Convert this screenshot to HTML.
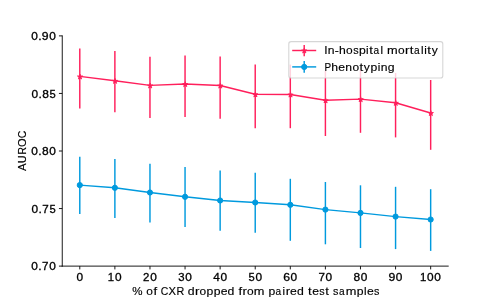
<!DOCTYPE html><html><head><meta charset="utf-8"><style>html,body{margin:0;padding:0;background:#fff;}svg{display:block;will-change:transform;}</style></head><body>
<svg width="498" height="299" viewBox="0 0 498 299">
<rect width="498" height="299" fill="#fff"/>
<line x1="62.25" y1="35.88" x2="62.25" y2="266.12" stroke="#000" stroke-width="0.9" stroke-linecap="square"/>
<line x1="62.25" y1="266.12" x2="448.2" y2="266.12" stroke="#000" stroke-width="0.9" stroke-linecap="square"/>
<line x1="58.95" y1="266.12" x2="62.25" y2="266.12" stroke="#000" stroke-width="0.9"/>
<text transform="translate(31.28,270.42) scale(1.078,1)" x="0" y="0" font-family="Liberation Sans, sans-serif" font-size="11.0" fill="#000" stroke="#000" stroke-width="0.3">0</text>
<text transform="translate(38.25,270.42) scale(1.107,1)" x="0" y="0" font-family="Liberation Sans, sans-serif" font-size="11.0" fill="#000" stroke="#000" stroke-width="0.3">.</text>
<text transform="translate(42.06,270.42) scale(1.055,1)" x="0" y="0" font-family="Liberation Sans, sans-serif" font-size="11.0" fill="#000" stroke="#000" stroke-width="0.3">7</text>
<text transform="translate(49.17,270.42) scale(1.078,1)" x="0" y="0" font-family="Liberation Sans, sans-serif" font-size="11.0" fill="#000" stroke="#000" stroke-width="0.3">0</text>
<line x1="58.95" y1="208.56" x2="62.25" y2="208.56" stroke="#000" stroke-width="0.9"/>
<text transform="translate(31.51,212.86) scale(1.078,1)" x="0" y="0" font-family="Liberation Sans, sans-serif" font-size="11.0" fill="#000" stroke="#000" stroke-width="0.3">0</text>
<text transform="translate(38.48,212.86) scale(1.107,1)" x="0" y="0" font-family="Liberation Sans, sans-serif" font-size="11.0" fill="#000" stroke="#000" stroke-width="0.3">.</text>
<text transform="translate(42.30,212.86) scale(1.055,1)" x="0" y="0" font-family="Liberation Sans, sans-serif" font-size="11.0" fill="#000" stroke="#000" stroke-width="0.3">7</text>
<text transform="translate(49.55,212.86) scale(1.017,1)" x="0" y="0" font-family="Liberation Sans, sans-serif" font-size="11.0" fill="#000" stroke="#000" stroke-width="0.3">5</text>
<line x1="58.95" y1="151.00" x2="62.25" y2="151.00" stroke="#000" stroke-width="0.9"/>
<text transform="translate(31.28,155.30) scale(1.078,1)" x="0" y="0" font-family="Liberation Sans, sans-serif" font-size="11.0" fill="#000" stroke="#000" stroke-width="0.3">0</text>
<text transform="translate(38.25,155.30) scale(1.107,1)" x="0" y="0" font-family="Liberation Sans, sans-serif" font-size="11.0" fill="#000" stroke="#000" stroke-width="0.3">.</text>
<text transform="translate(41.97,155.30) scale(1.090,1)" x="0" y="0" font-family="Liberation Sans, sans-serif" font-size="11.0" fill="#000" stroke="#000" stroke-width="0.3">8</text>
<text transform="translate(49.17,155.30) scale(1.078,1)" x="0" y="0" font-family="Liberation Sans, sans-serif" font-size="11.0" fill="#000" stroke="#000" stroke-width="0.3">0</text>
<line x1="58.95" y1="93.44" x2="62.25" y2="93.44" stroke="#000" stroke-width="0.9"/>
<text transform="translate(31.51,97.74) scale(1.078,1)" x="0" y="0" font-family="Liberation Sans, sans-serif" font-size="11.0" fill="#000" stroke="#000" stroke-width="0.3">0</text>
<text transform="translate(38.48,97.74) scale(1.107,1)" x="0" y="0" font-family="Liberation Sans, sans-serif" font-size="11.0" fill="#000" stroke="#000" stroke-width="0.3">.</text>
<text transform="translate(42.21,97.74) scale(1.090,1)" x="0" y="0" font-family="Liberation Sans, sans-serif" font-size="11.0" fill="#000" stroke="#000" stroke-width="0.3">8</text>
<text transform="translate(49.55,97.74) scale(1.017,1)" x="0" y="0" font-family="Liberation Sans, sans-serif" font-size="11.0" fill="#000" stroke="#000" stroke-width="0.3">5</text>
<line x1="58.95" y1="35.88" x2="62.25" y2="35.88" stroke="#000" stroke-width="0.9"/>
<text transform="translate(31.28,40.18) scale(1.078,1)" x="0" y="0" font-family="Liberation Sans, sans-serif" font-size="11.0" fill="#000" stroke="#000" stroke-width="0.3">0</text>
<text transform="translate(38.25,40.18) scale(1.107,1)" x="0" y="0" font-family="Liberation Sans, sans-serif" font-size="11.0" fill="#000" stroke="#000" stroke-width="0.3">.</text>
<text transform="translate(41.87,40.18) scale(1.114,1)" x="0" y="0" font-family="Liberation Sans, sans-serif" font-size="11.0" fill="#000" stroke="#000" stroke-width="0.3">9</text>
<text transform="translate(49.17,40.18) scale(1.078,1)" x="0" y="0" font-family="Liberation Sans, sans-serif" font-size="11.0" fill="#000" stroke="#000" stroke-width="0.3">0</text>
<line x1="79.79" y1="266.12" x2="79.79" y2="269.42" stroke="#000" stroke-width="0.9"/>
<text transform="translate(76.50,281.20) scale(1.078,1)" x="0" y="0" font-family="Liberation Sans, sans-serif" font-size="11.0" fill="#000" stroke="#000" stroke-width="0.3">0</text>
<line x1="114.88" y1="266.12" x2="114.88" y2="269.42" stroke="#000" stroke-width="0.9"/>
<text transform="translate(107.85,281.20) scale(1.030,1)" x="0" y="0" font-family="Liberation Sans, sans-serif" font-size="11.0" fill="#000" stroke="#000" stroke-width="0.3">1</text>
<text transform="translate(114.91,281.20) scale(1.078,1)" x="0" y="0" font-family="Liberation Sans, sans-serif" font-size="11.0" fill="#000" stroke="#000" stroke-width="0.3">0</text>
<line x1="149.97" y1="266.12" x2="149.97" y2="269.42" stroke="#000" stroke-width="0.9"/>
<text transform="translate(143.02,281.20) scale(1.039,1)" x="0" y="0" font-family="Liberation Sans, sans-serif" font-size="11.0" fill="#000" stroke="#000" stroke-width="0.3">2</text>
<text transform="translate(150.21,281.20) scale(1.078,1)" x="0" y="0" font-family="Liberation Sans, sans-serif" font-size="11.0" fill="#000" stroke="#000" stroke-width="0.3">0</text>
<line x1="185.05" y1="266.12" x2="185.05" y2="269.42" stroke="#000" stroke-width="0.9"/>
<text transform="translate(178.26,281.20) scale(1.035,1)" x="0" y="0" font-family="Liberation Sans, sans-serif" font-size="11.0" fill="#000" stroke="#000" stroke-width="0.3">3</text>
<text transform="translate(185.28,281.20) scale(1.078,1)" x="0" y="0" font-family="Liberation Sans, sans-serif" font-size="11.0" fill="#000" stroke="#000" stroke-width="0.3">0</text>
<line x1="220.14" y1="266.12" x2="220.14" y2="269.42" stroke="#000" stroke-width="0.9"/>
<text transform="translate(213.36,281.20) scale(1.078,1)" x="0" y="0" font-family="Liberation Sans, sans-serif" font-size="11.0" fill="#000" stroke="#000" stroke-width="0.3">4</text>
<text transform="translate(220.52,281.20) scale(1.078,1)" x="0" y="0" font-family="Liberation Sans, sans-serif" font-size="11.0" fill="#000" stroke="#000" stroke-width="0.3">0</text>
<line x1="255.22" y1="266.12" x2="255.22" y2="269.42" stroke="#000" stroke-width="0.9"/>
<text transform="translate(248.43,281.20) scale(1.017,1)" x="0" y="0" font-family="Liberation Sans, sans-serif" font-size="11.0" fill="#000" stroke="#000" stroke-width="0.3">5</text>
<text transform="translate(255.44,281.20) scale(1.078,1)" x="0" y="0" font-family="Liberation Sans, sans-serif" font-size="11.0" fill="#000" stroke="#000" stroke-width="0.3">0</text>
<line x1="290.31" y1="266.12" x2="290.31" y2="269.42" stroke="#000" stroke-width="0.9"/>
<text transform="translate(283.30,281.20) scale(1.116,1)" x="0" y="0" font-family="Liberation Sans, sans-serif" font-size="11.0" fill="#000" stroke="#000" stroke-width="0.3">6</text>
<text transform="translate(290.57,281.20) scale(1.078,1)" x="0" y="0" font-family="Liberation Sans, sans-serif" font-size="11.0" fill="#000" stroke="#000" stroke-width="0.3">0</text>
<line x1="325.40" y1="266.12" x2="325.40" y2="269.42" stroke="#000" stroke-width="0.9"/>
<text transform="translate(318.48,281.20) scale(1.055,1)" x="0" y="0" font-family="Liberation Sans, sans-serif" font-size="11.0" fill="#000" stroke="#000" stroke-width="0.3">7</text>
<text transform="translate(325.59,281.20) scale(1.078,1)" x="0" y="0" font-family="Liberation Sans, sans-serif" font-size="11.0" fill="#000" stroke="#000" stroke-width="0.3">0</text>
<line x1="360.48" y1="266.12" x2="360.48" y2="269.42" stroke="#000" stroke-width="0.9"/>
<text transform="translate(353.56,281.20) scale(1.090,1)" x="0" y="0" font-family="Liberation Sans, sans-serif" font-size="11.0" fill="#000" stroke="#000" stroke-width="0.3">8</text>
<text transform="translate(360.75,281.20) scale(1.078,1)" x="0" y="0" font-family="Liberation Sans, sans-serif" font-size="11.0" fill="#000" stroke="#000" stroke-width="0.3">0</text>
<line x1="395.57" y1="266.12" x2="395.57" y2="269.42" stroke="#000" stroke-width="0.9"/>
<text transform="translate(388.57,281.20) scale(1.114,1)" x="0" y="0" font-family="Liberation Sans, sans-serif" font-size="11.0" fill="#000" stroke="#000" stroke-width="0.3">9</text>
<text transform="translate(395.87,281.20) scale(1.078,1)" x="0" y="0" font-family="Liberation Sans, sans-serif" font-size="11.0" fill="#000" stroke="#000" stroke-width="0.3">0</text>
<line x1="430.66" y1="266.12" x2="430.66" y2="269.42" stroke="#000" stroke-width="0.9"/>
<text transform="translate(420.05,281.20) scale(1.030,1)" x="0" y="0" font-family="Liberation Sans, sans-serif" font-size="11.0" fill="#000" stroke="#000" stroke-width="0.3">1</text>
<text transform="translate(427.11,281.20) scale(1.078,1)" x="0" y="0" font-family="Liberation Sans, sans-serif" font-size="11.0" fill="#000" stroke="#000" stroke-width="0.3">0</text>
<text transform="translate(434.27,281.20) scale(1.078,1)" x="0" y="0" font-family="Liberation Sans, sans-serif" font-size="11.0" fill="#000" stroke="#000" stroke-width="0.3">0</text>
<text transform="translate(132.19,295.30) scale(1.050,1)" x="0" y="0" font-family="Liberation Sans, sans-serif" font-size="11.0" fill="#000" stroke="#000" stroke-width="0.15">%</text>
<text transform="translate(146.36,295.30) scale(1.087,1)" x="0" y="0" font-family="Liberation Sans, sans-serif" font-size="11.0" fill="#000" stroke="#000" stroke-width="0.15">o</text>
<text transform="translate(153.41,295.30) scale(1.200,1)" x="0" y="0" font-family="Liberation Sans, sans-serif" font-size="11.0" fill="#000" stroke="#000" stroke-width="0.15">f</text>
<text transform="translate(160.77,295.30) scale(0.949,1)" x="0" y="0" font-family="Liberation Sans, sans-serif" font-size="11.0" fill="#000" stroke="#000" stroke-width="0.15">C</text>
<text transform="translate(168.60,295.30) scale(1.024,1)" x="0" y="0" font-family="Liberation Sans, sans-serif" font-size="11.0" fill="#000" stroke="#000" stroke-width="0.15">X</text>
<text transform="translate(176.45,295.30) scale(0.978,1)" x="0" y="0" font-family="Liberation Sans, sans-serif" font-size="11.0" fill="#000" stroke="#000" stroke-width="0.15">R</text>
<text transform="translate(187.73,295.30) scale(1.112,1)" x="0" y="0" font-family="Liberation Sans, sans-serif" font-size="11.0" fill="#000" stroke="#000" stroke-width="0.15">d</text>
<text transform="translate(195.06,295.30) scale(1.200,1)" x="0" y="0" font-family="Liberation Sans, sans-serif" font-size="11.0" fill="#000" stroke="#000" stroke-width="0.15">r</text>
<text transform="translate(199.50,295.30) scale(1.087,1)" x="0" y="0" font-family="Liberation Sans, sans-serif" font-size="11.0" fill="#000" stroke="#000" stroke-width="0.15">o</text>
<text transform="translate(206.50,295.30) scale(1.113,1)" x="0" y="0" font-family="Liberation Sans, sans-serif" font-size="11.0" fill="#000" stroke="#000" stroke-width="0.15">p</text>
<text transform="translate(213.64,295.30) scale(1.113,1)" x="0" y="0" font-family="Liberation Sans, sans-serif" font-size="11.0" fill="#000" stroke="#000" stroke-width="0.15">p</text>
<text transform="translate(220.66,295.30) scale(1.105,1)" x="0" y="0" font-family="Liberation Sans, sans-serif" font-size="11.0" fill="#000" stroke="#000" stroke-width="0.15">e</text>
<text transform="translate(227.58,295.30) scale(1.112,1)" x="0" y="0" font-family="Liberation Sans, sans-serif" font-size="11.0" fill="#000" stroke="#000" stroke-width="0.15">d</text>
<text transform="translate(238.47,295.30) scale(1.200,1)" x="0" y="0" font-family="Liberation Sans, sans-serif" font-size="11.0" fill="#000" stroke="#000" stroke-width="0.15">f</text>
<text transform="translate(242.45,295.30) scale(1.200,1)" x="0" y="0" font-family="Liberation Sans, sans-serif" font-size="11.0" fill="#000" stroke="#000" stroke-width="0.15">r</text>
<text transform="translate(246.89,295.30) scale(1.087,1)" x="0" y="0" font-family="Liberation Sans, sans-serif" font-size="11.0" fill="#000" stroke="#000" stroke-width="0.15">o</text>
<text transform="translate(253.83,295.30) scale(1.165,1)" x="0" y="0" font-family="Liberation Sans, sans-serif" font-size="11.0" fill="#000" stroke="#000" stroke-width="0.15">m</text>
<text transform="translate(268.43,295.30) scale(1.113,1)" x="0" y="0" font-family="Liberation Sans, sans-serif" font-size="11.0" fill="#000" stroke="#000" stroke-width="0.15">p</text>
<text transform="translate(275.58,295.30) scale(0.920,1)" x="0" y="0" font-family="Liberation Sans, sans-serif" font-size="11.0" fill="#000" stroke="#000" stroke-width="0.15">a</text>
<text transform="translate(282.52,295.30) scale(1.045,1)" x="0" y="0" font-family="Liberation Sans, sans-serif" font-size="11.0" fill="#000" stroke="#000" stroke-width="0.15">i</text>
<text transform="translate(285.65,295.30) scale(1.200,1)" x="0" y="0" font-family="Liberation Sans, sans-serif" font-size="11.0" fill="#000" stroke="#000" stroke-width="0.15">r</text>
<text transform="translate(290.08,295.30) scale(1.105,1)" x="0" y="0" font-family="Liberation Sans, sans-serif" font-size="11.0" fill="#000" stroke="#000" stroke-width="0.15">e</text>
<text transform="translate(297.01,295.30) scale(1.112,1)" x="0" y="0" font-family="Liberation Sans, sans-serif" font-size="11.0" fill="#000" stroke="#000" stroke-width="0.15">d</text>
<text transform="translate(307.95,295.30) scale(1.200,1)" x="0" y="0" font-family="Liberation Sans, sans-serif" font-size="11.0" fill="#000" stroke="#000" stroke-width="0.15">t</text>
<text transform="translate(312.13,295.30) scale(1.105,1)" x="0" y="0" font-family="Liberation Sans, sans-serif" font-size="11.0" fill="#000" stroke="#000" stroke-width="0.15">e</text>
<text transform="translate(319.26,295.30) scale(0.980,1)" x="0" y="0" font-family="Liberation Sans, sans-serif" font-size="11.0" fill="#000" stroke="#000" stroke-width="0.15">s</text>
<text transform="translate(325.15,295.30) scale(1.200,1)" x="0" y="0" font-family="Liberation Sans, sans-serif" font-size="11.0" fill="#000" stroke="#000" stroke-width="0.15">t</text>
<text transform="translate(333.11,295.30) scale(0.980,1)" x="0" y="0" font-family="Liberation Sans, sans-serif" font-size="11.0" fill="#000" stroke="#000" stroke-width="0.15">s</text>
<text transform="translate(338.91,295.30) scale(0.920,1)" x="0" y="0" font-family="Liberation Sans, sans-serif" font-size="11.0" fill="#000" stroke="#000" stroke-width="0.15">a</text>
<text transform="translate(345.72,295.30) scale(1.165,1)" x="0" y="0" font-family="Liberation Sans, sans-serif" font-size="11.0" fill="#000" stroke="#000" stroke-width="0.15">m</text>
<text transform="translate(356.75,295.30) scale(1.113,1)" x="0" y="0" font-family="Liberation Sans, sans-serif" font-size="11.0" fill="#000" stroke="#000" stroke-width="0.15">p</text>
<text transform="translate(363.94,295.30) scale(1.045,1)" x="0" y="0" font-family="Liberation Sans, sans-serif" font-size="11.0" fill="#000" stroke="#000" stroke-width="0.15">l</text>
<text transform="translate(366.88,295.30) scale(1.105,1)" x="0" y="0" font-family="Liberation Sans, sans-serif" font-size="11.0" fill="#000" stroke="#000" stroke-width="0.15">e</text>
<text transform="translate(374.01,295.30) scale(0.980,1)" x="0" y="0" font-family="Liberation Sans, sans-serif" font-size="11.0" fill="#000" stroke="#000" stroke-width="0.15">s</text>
<text transform="translate(25.60,151.00) rotate(-90) translate(-19.90,0) scale(1.030,1)" x="0" y="0" font-family="Liberation Sans, sans-serif" font-size="11.0" fill="#000" stroke="#000" stroke-width="0.15">A</text>
<text transform="translate(25.60,151.00) rotate(-90) translate(-12.15,0) scale(1.005,1)" x="0" y="0" font-family="Liberation Sans, sans-serif" font-size="11.0" fill="#000" stroke="#000" stroke-width="0.15">U</text>
<text transform="translate(25.60,151.00) rotate(-90) translate(-3.82,0) scale(0.978,1)" x="0" y="0" font-family="Liberation Sans, sans-serif" font-size="11.0" fill="#000" stroke="#000" stroke-width="0.15">R</text>
<text transform="translate(25.60,151.00) rotate(-90) translate(3.88,0) scale(1.011,1)" x="0" y="0" font-family="Liberation Sans, sans-serif" font-size="11.0" fill="#000" stroke="#000" stroke-width="0.15">O</text>
<text transform="translate(25.60,151.00) rotate(-90) translate(12.74,0) scale(0.949,1)" x="0" y="0" font-family="Liberation Sans, sans-serif" font-size="11.0" fill="#000" stroke="#000" stroke-width="0.15">C</text>
<line x1="79.79" y1="48.50" x2="79.79" y2="108.50" stroke="#FF1F5B" stroke-width="1.45"/>
<line x1="114.88" y1="51.00" x2="114.88" y2="112.20" stroke="#FF1F5B" stroke-width="1.45"/>
<line x1="149.97" y1="56.70" x2="149.97" y2="118.10" stroke="#FF1F5B" stroke-width="1.45"/>
<line x1="185.05" y1="55.40" x2="185.05" y2="117.10" stroke="#FF1F5B" stroke-width="1.45"/>
<line x1="220.14" y1="56.40" x2="220.14" y2="118.70" stroke="#FF1F5B" stroke-width="1.45"/>
<line x1="255.22" y1="64.50" x2="255.22" y2="128.20" stroke="#FF1F5B" stroke-width="1.45"/>
<line x1="290.31" y1="64.60" x2="290.31" y2="128.20" stroke="#FF1F5B" stroke-width="1.45"/>
<line x1="325.40" y1="70.70" x2="325.40" y2="136.00" stroke="#FF1F5B" stroke-width="1.45"/>
<line x1="360.48" y1="70.00" x2="360.48" y2="132.80" stroke="#FF1F5B" stroke-width="1.45"/>
<line x1="395.57" y1="73.00" x2="395.57" y2="137.40" stroke="#FF1F5B" stroke-width="1.45"/>
<line x1="430.66" y1="80.00" x2="430.66" y2="149.80" stroke="#FF1F5B" stroke-width="1.45"/>
<polyline points="79.79,76.40 114.88,80.80 149.97,85.40 185.05,84.00 220.14,85.50 255.22,94.30 290.31,94.50 325.40,100.30 360.48,99.10 395.57,102.80 430.66,113.00" fill="none" stroke="#FF1F5B" stroke-width="1.45" stroke-linejoin="round" stroke-linecap="butt"/>
<polygon points="79.99,74.10 79.39,75.97 77.43,75.97 79.01,77.12 78.41,78.98 79.99,77.83 81.58,78.98 80.97,77.12 82.56,75.97 80.60,75.97" fill="#FF1F5B" stroke="#FF1F5B" stroke-width="0.9" stroke-linejoin="round"/>
<polygon points="115.08,78.50 114.47,80.37 112.51,80.37 114.10,81.52 113.49,83.38 115.08,82.23 116.67,83.38 116.06,81.52 117.65,80.37 115.69,80.37" fill="#FF1F5B" stroke="#FF1F5B" stroke-width="0.9" stroke-linejoin="round"/>
<polygon points="150.17,83.10 149.56,84.97 147.60,84.97 149.19,86.12 148.58,87.98 150.17,86.83 151.75,87.98 151.15,86.12 152.73,84.97 150.77,84.97" fill="#FF1F5B" stroke="#FF1F5B" stroke-width="0.9" stroke-linejoin="round"/>
<polygon points="185.25,81.70 184.65,83.57 182.68,83.57 184.27,84.72 183.67,86.58 185.25,85.43 186.84,86.58 186.23,84.72 187.82,83.57 185.86,83.57" fill="#FF1F5B" stroke="#FF1F5B" stroke-width="0.9" stroke-linejoin="round"/>
<polygon points="220.34,83.20 219.73,85.07 217.77,85.07 219.36,86.22 218.75,88.08 220.34,86.93 221.93,88.08 221.32,86.22 222.91,85.07 220.94,85.07" fill="#FF1F5B" stroke="#FF1F5B" stroke-width="0.9" stroke-linejoin="round"/>
<polygon points="255.42,92.00 254.82,93.87 252.86,93.87 254.44,95.02 253.84,96.88 255.42,95.73 257.01,96.88 256.41,95.02 257.99,93.87 256.03,93.87" fill="#FF1F5B" stroke="#FF1F5B" stroke-width="0.9" stroke-linejoin="round"/>
<polygon points="290.51,92.20 289.91,94.07 287.94,94.07 289.53,95.22 288.92,97.08 290.51,95.93 292.10,97.08 291.49,95.22 293.08,94.07 291.12,94.07" fill="#FF1F5B" stroke="#FF1F5B" stroke-width="0.9" stroke-linejoin="round"/>
<polygon points="325.60,98.00 324.99,99.87 323.03,99.87 324.62,101.02 324.01,102.88 325.60,101.73 327.18,102.88 326.58,101.02 328.17,99.87 326.20,99.87" fill="#FF1F5B" stroke="#FF1F5B" stroke-width="0.9" stroke-linejoin="round"/>
<polygon points="360.68,96.80 360.08,98.67 358.12,98.67 359.70,99.82 359.10,101.68 360.68,100.53 362.27,101.68 361.66,99.82 363.25,98.67 361.29,98.67" fill="#FF1F5B" stroke="#FF1F5B" stroke-width="0.9" stroke-linejoin="round"/>
<polygon points="395.77,100.50 395.16,102.37 393.20,102.37 394.79,103.52 394.18,105.38 395.77,104.23 397.36,105.38 396.75,103.52 398.34,102.37 396.38,102.37" fill="#FF1F5B" stroke="#FF1F5B" stroke-width="0.9" stroke-linejoin="round"/>
<polygon points="430.86,110.70 430.25,112.57 428.29,112.57 429.88,113.72 429.27,115.58 430.86,114.43 432.44,115.58 431.84,113.72 433.42,112.57 431.46,112.57" fill="#FF1F5B" stroke="#FF1F5B" stroke-width="0.9" stroke-linejoin="round"/>
<line x1="79.79" y1="156.70" x2="79.79" y2="214.00" stroke="#009ADE" stroke-width="1.45"/>
<line x1="114.88" y1="159.10" x2="114.88" y2="218.10" stroke="#009ADE" stroke-width="1.45"/>
<line x1="149.97" y1="163.70" x2="149.97" y2="222.40" stroke="#009ADE" stroke-width="1.45"/>
<line x1="185.05" y1="167.00" x2="185.05" y2="226.90" stroke="#009ADE" stroke-width="1.45"/>
<line x1="220.14" y1="170.40" x2="220.14" y2="230.80" stroke="#009ADE" stroke-width="1.45"/>
<line x1="255.22" y1="172.70" x2="255.22" y2="232.80" stroke="#009ADE" stroke-width="1.45"/>
<line x1="290.31" y1="178.80" x2="290.31" y2="240.80" stroke="#009ADE" stroke-width="1.45"/>
<line x1="325.40" y1="182.00" x2="325.40" y2="244.30" stroke="#009ADE" stroke-width="1.45"/>
<line x1="360.48" y1="185.30" x2="360.48" y2="248.00" stroke="#009ADE" stroke-width="1.45"/>
<line x1="395.57" y1="186.80" x2="395.57" y2="249.10" stroke="#009ADE" stroke-width="1.45"/>
<line x1="430.66" y1="189.20" x2="430.66" y2="250.90" stroke="#009ADE" stroke-width="1.45"/>
<polyline points="79.79,185.10 114.88,187.80 149.97,192.50 185.05,196.80 220.14,200.50 255.22,202.50 290.31,204.80 325.40,209.60 360.48,212.90 395.57,216.60 430.66,219.50" fill="none" stroke="#009ADE" stroke-width="1.45" stroke-linejoin="round" stroke-linecap="butt"/>
<circle cx="79.79" cy="185.10" r="2.6" fill="#009ADE" stroke="#009ADE" stroke-width="1"/>
<circle cx="114.88" cy="187.80" r="2.6" fill="#009ADE" stroke="#009ADE" stroke-width="1"/>
<circle cx="149.97" cy="192.50" r="2.6" fill="#009ADE" stroke="#009ADE" stroke-width="1"/>
<circle cx="185.05" cy="196.80" r="2.6" fill="#009ADE" stroke="#009ADE" stroke-width="1"/>
<circle cx="220.14" cy="200.50" r="2.6" fill="#009ADE" stroke="#009ADE" stroke-width="1"/>
<circle cx="255.22" cy="202.50" r="2.6" fill="#009ADE" stroke="#009ADE" stroke-width="1"/>
<circle cx="290.31" cy="204.80" r="2.6" fill="#009ADE" stroke="#009ADE" stroke-width="1"/>
<circle cx="325.40" cy="209.60" r="2.6" fill="#009ADE" stroke="#009ADE" stroke-width="1"/>
<circle cx="360.48" cy="212.90" r="2.6" fill="#009ADE" stroke="#009ADE" stroke-width="1"/>
<circle cx="395.57" cy="216.60" r="2.6" fill="#009ADE" stroke="#009ADE" stroke-width="1"/>
<circle cx="430.66" cy="219.50" r="2.6" fill="#009ADE" stroke="#009ADE" stroke-width="1"/>
<rect x="288.8" y="41.6" width="154.0" height="36.4" rx="2.3" ry="2.3" fill="#fff" fill-opacity="0.8" stroke="#cccccc" stroke-opacity="0.8" stroke-width="1.1"/>
<line x1="292.2" y1="50.5" x2="316.2" y2="50.5" stroke="#FF1F5B" stroke-width="1.45"/>
<line x1="304.2" y1="45" x2="304.2" y2="56.3" stroke="#FF1F5B" stroke-width="1.45"/>
<polygon points="304.30,48.10 303.69,49.97 301.73,49.97 303.32,51.12 302.71,52.98 304.30,51.83 305.89,52.98 305.28,51.12 306.87,49.97 304.91,49.97" fill="#FF1F5B" stroke="#FF1F5B" stroke-width="0.9" stroke-linejoin="round"/>
<text transform="translate(324.30,54.30) scale(1.082,1)" x="0" y="0" font-family="Liberation Sans, sans-serif" font-size="11.0" fill="#000" stroke="#000" stroke-width="0.15">I</text>
<text transform="translate(327.83,54.30) scale(1.103,1)" x="0" y="0" font-family="Liberation Sans, sans-serif" font-size="11.0" fill="#000" stroke="#000" stroke-width="0.15">n</text>
<text transform="translate(334.75,54.30) scale(1.103,1)" x="0" y="0" font-family="Liberation Sans, sans-serif" font-size="11.0" fill="#000" stroke="#000" stroke-width="0.15">-</text>
<text transform="translate(338.98,54.30) scale(1.110,1)" x="0" y="0" font-family="Liberation Sans, sans-serif" font-size="11.0" fill="#000" stroke="#000" stroke-width="0.15">h</text>
<text transform="translate(346.05,54.30) scale(1.087,1)" x="0" y="0" font-family="Liberation Sans, sans-serif" font-size="11.0" fill="#000" stroke="#000" stroke-width="0.15">o</text>
<text transform="translate(353.13,54.30) scale(0.980,1)" x="0" y="0" font-family="Liberation Sans, sans-serif" font-size="11.0" fill="#000" stroke="#000" stroke-width="0.15">s</text>
<text transform="translate(358.91,54.30) scale(1.113,1)" x="0" y="0" font-family="Liberation Sans, sans-serif" font-size="11.0" fill="#000" stroke="#000" stroke-width="0.15">p</text>
<text transform="translate(366.11,54.30) scale(1.045,1)" x="0" y="0" font-family="Liberation Sans, sans-serif" font-size="11.0" fill="#000" stroke="#000" stroke-width="0.15">i</text>
<text transform="translate(369.28,54.30) scale(1.200,1)" x="0" y="0" font-family="Liberation Sans, sans-serif" font-size="11.0" fill="#000" stroke="#000" stroke-width="0.15">t</text>
<text transform="translate(373.60,54.30) scale(0.920,1)" x="0" y="0" font-family="Liberation Sans, sans-serif" font-size="11.0" fill="#000" stroke="#000" stroke-width="0.15">a</text>
<text transform="translate(380.53,54.30) scale(1.045,1)" x="0" y="0" font-family="Liberation Sans, sans-serif" font-size="11.0" fill="#000" stroke="#000" stroke-width="0.15">l</text>
<text transform="translate(387.12,54.30) scale(1.165,1)" x="0" y="0" font-family="Liberation Sans, sans-serif" font-size="11.0" fill="#000" stroke="#000" stroke-width="0.15">m</text>
<text transform="translate(398.03,54.30) scale(1.087,1)" x="0" y="0" font-family="Liberation Sans, sans-serif" font-size="11.0" fill="#000" stroke="#000" stroke-width="0.15">o</text>
<text transform="translate(405.09,54.30) scale(1.200,1)" x="0" y="0" font-family="Liberation Sans, sans-serif" font-size="11.0" fill="#000" stroke="#000" stroke-width="0.15">r</text>
<text transform="translate(409.75,54.30) scale(1.200,1)" x="0" y="0" font-family="Liberation Sans, sans-serif" font-size="11.0" fill="#000" stroke="#000" stroke-width="0.15">t</text>
<text transform="translate(414.07,54.30) scale(0.920,1)" x="0" y="0" font-family="Liberation Sans, sans-serif" font-size="11.0" fill="#000" stroke="#000" stroke-width="0.15">a</text>
<text transform="translate(421.01,54.30) scale(1.045,1)" x="0" y="0" font-family="Liberation Sans, sans-serif" font-size="11.0" fill="#000" stroke="#000" stroke-width="0.15">l</text>
<text transform="translate(424.14,54.30) scale(1.045,1)" x="0" y="0" font-family="Liberation Sans, sans-serif" font-size="11.0" fill="#000" stroke="#000" stroke-width="0.15">i</text>
<text transform="translate(427.31,54.30) scale(1.200,1)" x="0" y="0" font-family="Liberation Sans, sans-serif" font-size="11.0" fill="#000" stroke="#000" stroke-width="0.15">t</text>
<text transform="translate(431.69,54.30) scale(1.098,1)" x="0" y="0" font-family="Liberation Sans, sans-serif" font-size="11.0" fill="#000" stroke="#000" stroke-width="0.15">y</text>
<line x1="292.2" y1="66.9" x2="316.2" y2="66.9" stroke="#009ADE" stroke-width="1.45"/>
<line x1="304.2" y1="61.0" x2="304.2" y2="72.7" stroke="#009ADE" stroke-width="1.45"/>
<circle cx="304.2" cy="66.9" r="2.6" fill="#009ADE" stroke="#009ADE" stroke-width="1"/>
<text transform="translate(324.58,70.60) scale(0.905,1)" x="0" y="0" font-family="Liberation Sans, sans-serif" font-size="11.0" fill="#000" stroke="#000" stroke-width="0.15">P</text>
<text transform="translate(331.25,70.60) scale(1.110,1)" x="0" y="0" font-family="Liberation Sans, sans-serif" font-size="11.0" fill="#000" stroke="#000" stroke-width="0.15">h</text>
<text transform="translate(338.31,70.60) scale(1.105,1)" x="0" y="0" font-family="Liberation Sans, sans-serif" font-size="11.0" fill="#000" stroke="#000" stroke-width="0.15">e</text>
<text transform="translate(345.35,70.60) scale(1.103,1)" x="0" y="0" font-family="Liberation Sans, sans-serif" font-size="11.0" fill="#000" stroke="#000" stroke-width="0.15">n</text>
<text transform="translate(352.38,70.60) scale(1.087,1)" x="0" y="0" font-family="Liberation Sans, sans-serif" font-size="11.0" fill="#000" stroke="#000" stroke-width="0.15">o</text>
<text transform="translate(359.48,70.60) scale(1.200,1)" x="0" y="0" font-family="Liberation Sans, sans-serif" font-size="11.0" fill="#000" stroke="#000" stroke-width="0.15">t</text>
<text transform="translate(363.86,70.60) scale(1.098,1)" x="0" y="0" font-family="Liberation Sans, sans-serif" font-size="11.0" fill="#000" stroke="#000" stroke-width="0.15">y</text>
<text transform="translate(370.45,70.60) scale(1.113,1)" x="0" y="0" font-family="Liberation Sans, sans-serif" font-size="11.0" fill="#000" stroke="#000" stroke-width="0.15">p</text>
<text transform="translate(377.65,70.60) scale(1.045,1)" x="0" y="0" font-family="Liberation Sans, sans-serif" font-size="11.0" fill="#000" stroke="#000" stroke-width="0.15">i</text>
<text transform="translate(380.70,70.60) scale(1.103,1)" x="0" y="0" font-family="Liberation Sans, sans-serif" font-size="11.0" fill="#000" stroke="#000" stroke-width="0.15">n</text>
<text transform="translate(387.72,70.60) scale(1.112,1)" x="0" y="0" font-family="Liberation Sans, sans-serif" font-size="11.0" fill="#000" stroke="#000" stroke-width="0.15">g</text>
</svg></body></html>
